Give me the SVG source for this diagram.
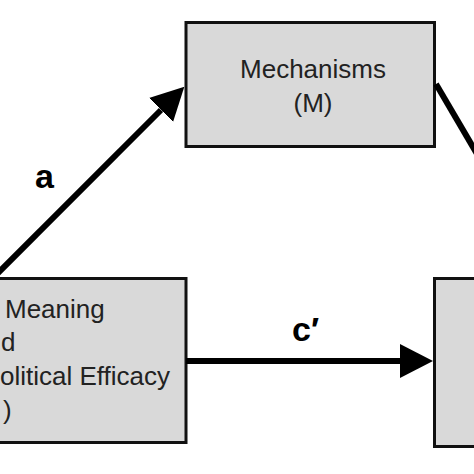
<svg xmlns="http://www.w3.org/2000/svg" width="474" height="474" viewBox="0 0 474 474">
  <style>
    .box { fill: #d9d9d9; stroke: #111; stroke-width: 3; }
    .txt { font-family: "Liberation Sans", Arial, sans-serif; font-size: 26px; fill: #222; }
    .lbl { font-family: "Liberation Sans", Arial, sans-serif; font-size: 34px; font-weight: bold; fill: #000; }
    .conn { stroke: #000; stroke-width: 6; fill: none; }
  </style>
  <defs>
    <marker id="head" markerUnits="userSpaceOnUse" markerWidth="50" markerHeight="40" viewBox="0 -20 50 40" refX="0" refY="0" orient="auto">
      <path d="M0,-17 L33,0 L0,17 z" fill="#000"/>
    </marker>
  </defs>
  <rect width="474" height="474" fill="#fff"/>

  <g id="node-x">
    <rect class="box" x="-10" y="278.5" width="196" height="164"/>
    <text class="txt" x="5" y="318">Meaning</text>
    <text class="txt" x="1" y="351">d</text>
    <text class="txt" x="0" y="385">olitical Efficacy</text>
    <text class="txt" x="3" y="419">)</text>
  </g>

  <g id="node-m">
    <rect class="box" x="186" y="22.5" width="248.5" height="124"/>
    <text class="txt" x="313" y="78" text-anchor="middle">Mechanisms</text>
    <text class="txt" x="313" y="112" text-anchor="middle">(M)</text>
  </g>

  <g id="node-y">
    <rect class="box" x="434.5" y="278.5" width="60" height="168"/>
  </g>

  <g id="connectors">
    <line class="conn" x1="-3" y1="274" x2="161" y2="110" marker-end="url(#head)"/>
    <line class="conn" x1="186" y1="361" x2="400" y2="361" marker-end="url(#head)"/>
    <line class="conn" x1="436" y1="84" x2="480" y2="159"/>
    <text class="lbl" x="35" y="188">a</text>
    <text class="lbl" x="292" y="341">c′</text>
  </g>
</svg>
